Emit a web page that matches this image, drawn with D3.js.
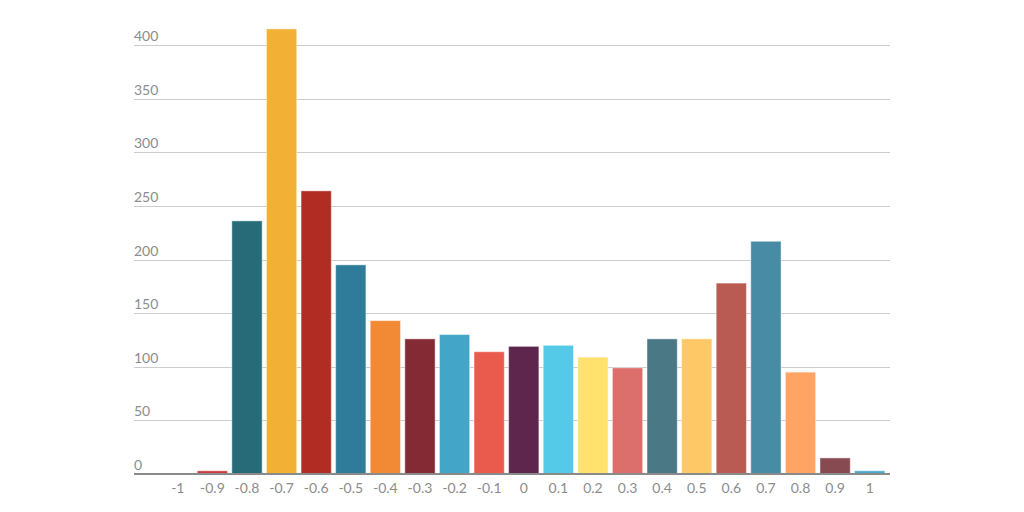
<!DOCTYPE html>
<html>
<head>
<meta charset="utf-8">
<script src="https://cdn.jsdelivr.net/npm/d3@7"></script>
<style>
	body { margin: 0; background: #fff; }
	svg text { font-family: Lato, 'Open Sans', sans-serif; fill: #8c8c8c; }
</style>
</head>
<body>
<svg></svg>
<script>
const width = 1024;
const height = 512;

// histogram buckets
const categories = [-1, -0.9, -0.8, -0.7, -0.6, -0.5, -0.4, -0.3, -0.2, -0.1, 0,
	0.1, 0.2, 0.3, 0.4, 0.5, 0.6, 0.7, 0.8, 0.9, 1];
const counts = [0, 3, 236, 415, 264, 195, 143, 126, 130, 114, 119,
	120, 109, 99, 126, 126, 178, 217, 95, 15, 3];
const barColors = ['#cf3b3b', '#cf3b3b', '#276b79', '#f2b035', '#b12c22', '#2e7c99', '#f28a35',
	'#842a35', '#43a5c8', '#ea5a4d', '#5e264c', '#54c9e8', '#ffe26e', '#dc6e6c',
	'#4b7885', '#ffc866', '#ba5b53', '#488ba5', '#ffa462', '#874a51', '#4ba9cc'];
const yTicks = [0, 50, 100, 150, 200, 250, 300, 350, 400];

const svg = d3.select('svg')
	.attr('width', width)
	.attr('height', height);

const gridLeft = 134;
const gridRight = 890;

const xScale = d3.scaleBand()
	.domain(categories)
	.range([160.5, 887])
	.paddingInner(0.125)
	.paddingOuter(0.0625);

const yScale = d3.scaleLinear()
	.domain([0, 400])
	.range([474, 45]);

// horizontal grid lines with labels sitting on top of them
const grid = svg.append('g');
grid.selectAll('line').data(yTicks.filter(d => d > 0))
	.enter().append('line')
	.attr('x1', gridLeft)
	.attr('x2', gridRight)
	.attr('y1', d => Math.round(yScale(d)) + 0.5)
	.attr('y2', d => Math.round(yScale(d)) + 0.5)
	.attr('stroke', '#cccccc')
	.attr('stroke-width', 1);

grid.selectAll('text').data(yTicks)
	.enter().append('text')
	.attr('x', gridLeft)
	.attr('y', d => yScale(d) - 4)
	.attr('font-size', 14)
	.text(d => d);

// bars
svg.append('g').selectAll('rect').data(counts)
	.enter().append('rect')
	.attr('x', (d, i) => xScale(categories[i]))
	.attr('y', d => yScale(d))
	.attr('width', xScale.bandwidth())
	.attr('height', d => yScale(0) - yScale(d))
	.attr('fill', (d, i) => barColors[i])
	.attr('stroke', 'rgba(255,255,255,0.45)')
	.attr('stroke-width', 1);

// baseline
svg.append('line')
	.attr('x1', gridLeft)
	.attr('x2', gridRight)
	.attr('y1', yScale(0))
	.attr('y2', yScale(0))
	.attr('stroke', '#8a8a8a')
	.attr('stroke-width', 2);

// x labels
const xAxis = d3.axisBottom(xScale)
	.tickSize(0)
	.tickPadding(0)
	.tickFormat(d => d);

const xAxisG = svg.append('g')
	.attr('transform', `translate(0, 493)`)
	.call(xAxis);
xAxisG.select('.domain').remove();
xAxisG.selectAll('text')
	.attr('dy', 0)
	.attr('font-size', 14)
	.attr('font-family', null)
	.attr('fill', '#8c8c8c');
</script>
</body>
</html>
